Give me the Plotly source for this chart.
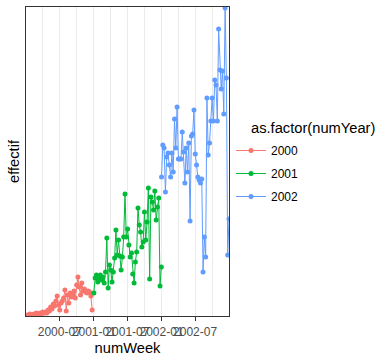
import datetime as dt
import plotly.graph_objects as go

years = [2000, 2001, 2002]
colors = ["#F8766D", "#00BA38", "#619CFF"]

eff_2000 = [0, 1, 0, 2, 1, 0, 2, 1, 3, 2, 1, 3, 2, 4, 3, 4, 3, 6, 5, 9, 7, 12, 10, 15, 20, 11,
            6, 13, 15, 18, 26, 5, 21, 13, 23, 19, 21, 25, 18, 31, 39, 29, 21, 33, 25, 27, 24, 23,
            25, 24, 20, 6]
eff_2001 = [23, 38, 41, 34, 37, 41, 36, 39, 33, 44, 78, 28, 51, 46, 34, 44, 58, 86, 61, 76, 60,
            46, 59, 79, 122, 79, 87, 71, 59, 63, 42, 33, 54, 64, 108, 91, 84, 69, 74, 104, 76, 94,
            128, 37, 119, 114, 106, 125, 96, 109, 118, 30, 49]
eff_2002 = [139, 171, 168, 124, 159, 163, 151, 139, 163, 144, 197, 168, 209, 157, 157, 157, 184,
            164, 133, 168, 144, 173, 95, 180, 182, 206, 162, 151, 139, 136, 133, 137, 44, 79, 59,
            218, 161, 173, 195, 218, 195, 236, 231, 195, 287, 246, 227, 245, 202, 308, 238, 61, 97]
series = [eff_2000, eff_2001, eff_2002]

tick_vals = ["2000-07-01", "2001-01-01", "2001-07-01", "2002-01-01", "2002-07-01"]
tick_text = ["2000-07", "2001-01", "2001-07", "2002-01", "2002-07"]

fig = go.Figure()
for yr, col, vals in zip(years, colors, series):
    start = dt.date(yr, 1, 1)
    dates = [start + dt.timedelta(days=7 * i) for i in range(len(vals))]
    fig.add_trace(go.Scatter(
        x=dates, y=vals, mode="lines+markers", name=str(yr),
        legendgroup=str(yr),
        line=dict(color=col, width=1),
        marker=dict(color=col, size=5),
    ))

font = "Liberation Sans, Arial, sans-serif"
fig.update_layout(
    width=392, height=361,
    margin=dict(l=26, r=163, t=7, b=45, autoexpand=False),
    paper_bgcolor="white", plot_bgcolor="white",
    font=dict(family=font, color="black"),
    showlegend=True,
    legend=dict(
        font=dict(size=12, color="black"),
        x=(231 - 26) / 203, xanchor="left", y=(316 - 136) / 309, yanchor="top",
        xref="paper", tracegroupgap=4, traceorder="grouped",
        bgcolor="rgba(0,0,0,0)",
    ),
    annotations=[dict(
        text="as.factor(numYear)", xref="paper", yref="paper",
        x=(249 - 26) / 203, y=(316 - 128) / 309, xanchor="left", yanchor="middle",
        showarrow=False, font=dict(size=14.7, color="black"),
    )],
    xaxis=dict(
        type="date",
        range=["2000-01-01", "2002-12-31"],
        tickmode="array", tickvals=tick_vals, ticktext=tick_text, tickangle=0,
        tickfont=dict(size=12, color="#4d4d4d"),
        ticks="outside", ticklen=4, tickcolor="#333333", ticklabelstandoff=1,
        showgrid=True, gridcolor="#ebebeb", gridwidth=1,
        minor=dict(tick0="2000-01-01", dtick="M3", showgrid=True,
                   gridcolor="#ebebeb", gridwidth=1, ticks=""),
        showline=True, linecolor="#333333", linewidth=1, mirror=True,
        zeroline=False, automargin=False,
        title=dict(text="numWeek", font=dict(size=14.7, color="black"), standoff=4),
    ),
    yaxis=dict(
        range=[0, 309],
        showticklabels=False, ticks="",
        showgrid=False, zeroline=False, automargin=False,
        showline=True, linecolor="#333333", linewidth=1, mirror=True,
        title=dict(text="effectif", font=dict(size=14.7, color="black"), standoff=1),
    ),
)

fig.write_html("out.html", config={"displayModeBar": False},
               post_script="document.body.style.margin='0';")
